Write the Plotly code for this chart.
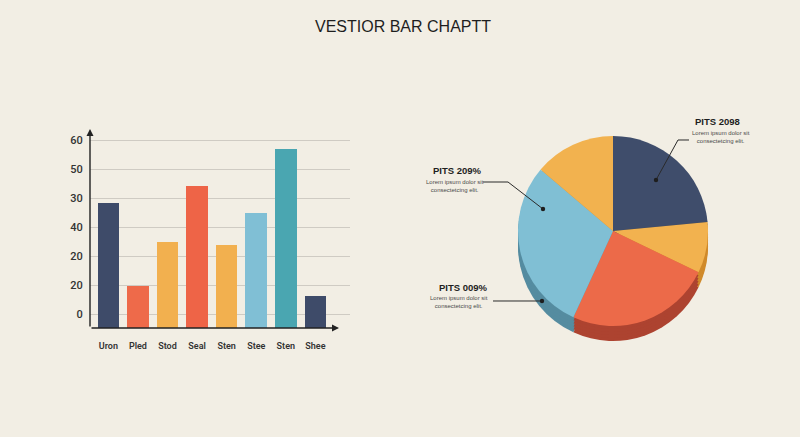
import plotly.graph_objects as go

W, H = 800, 437

# ---------------- data ----------------
title_text = "VESTIOR BAR CHAPTT"
bar_categories = ["Uron", "Pled", "Stod", "Seal", "Sten", "Stee", "Sten", "Shee"]
bar_values = [38.4, 9.8, 24.9, 44.1, 23.8, 34.8, 56.9, 6.3]
bar_colors = ["#3e4b69", "#ee6a4a", "#f2b04f", "#ee6447", "#f2b04f", "#80bfd5", "#4aa6b1", "#3e4b69"]
y_tick_values = [0, 10, 20, 30, 40, 50, 60]
y_tick_labels = ["0", "20", "20", "40", "30", "50", "60"]
y_floor = -4.8
y_top = 64

pie_labels = ["Navy", "Orange A", "Red", "Blue", "Orange B"]
pie_values = [23.5, 8.7, 24.7, 29.4, 13.8]
pie_colors = ["#3f4d6b", "#f2b24f", "#ec6a49", "#80bfd4", "#f2b24f"]
pie_side_colors = ["#2d3850", "#d08a2a", "#ad4330", "#558ca0", "#d08a2a"]

callout_titles = ["PITS 2098", "PITS 209%", "PITS 009%"]
callout_body = "Lorem ipsum dolor sit<br>consectetcing elit."

BG = "#f2eee4"


def px(x):
    return x / W


def py(y):
    return 1 - y / H


fig = go.Figure()

# ---------------- bar chart ----------------
fig.add_trace(go.Bar(
    x=list(range(len(bar_categories))),
    y=[v - y_floor for v in bar_values],
    base=y_floor,
    marker=dict(color=bar_colors, line=dict(width=0)),
    width=0.73,
    showlegend=False,
    hoverinfo="skip",
))

# ---------------- pie (3D look: darker pies shifted down + top face) ----------------
cx, cy, r = 613, 231, 95
depth = 15
for d in [depth, 12, 9, 6, 3]:
    fig.add_trace(go.Pie(
        labels=pie_labels, values=pie_values, sort=False, direction="clockwise", rotation=0,
        marker=dict(colors=pie_side_colors, line=dict(width=0)),
        textinfo="none", hoverinfo="skip", showlegend=False,
        domain=dict(x=[px(cx - r), px(cx + r)], y=[py(cy + d + r), py(cy + d - r)]),
    ))
fig.add_trace(go.Pie(
    labels=pie_labels, values=pie_values, sort=False, direction="clockwise", rotation=0,
    marker=dict(colors=pie_colors, line=dict(width=0)),
    textinfo="none", hoverinfo="skip", showlegend=False,
    domain=dict(x=[px(cx - r), px(cx + r)], y=[py(cy + r), py(cy - r)]),
))

# ---------------- layout ----------------
fig.update_layout(
    width=W, height=H,
    margin=dict(l=0, r=0, t=0, b=0),
    paper_bgcolor=BG, plot_bgcolor=BG,
    font=dict(family="Liberation Sans, Arial, sans-serif", color="#2b2b2b"),
    bargap=0,
    xaxis=dict(
        domain=[px(90), px(350)],
        range=[-0.62, 8.17],
        tickmode="array",
        tickvals=list(range(len(bar_categories))),
        ticktext=bar_categories,
        tickfont=dict(size=9, color="#333333", family="Roboto, Arial, sans-serif", weight=600),
        ticks="outside", ticklen=9, tickcolor="rgba(0,0,0,0)",
        showgrid=False, zeroline=False, showline=False, fixedrange=True,
    ),
    yaxis=dict(
        domain=[py(328), py(128.5)],
        range=[y_floor, y_top],
        tickmode="array",
        tickvals=y_tick_values,
        ticktext=y_tick_labels,
        tickfont=dict(size=11, color="#333333", family="Roboto, Arial, sans-serif", weight=500),
        ticks="outside", ticklen=4, tickcolor="rgba(0,0,0,0)",
        showgrid=True, gridcolor="#cfcbc3", gridwidth=1,
        zeroline=False, showline=False, fixedrange=True,
    ),
)

annotations = []
shapes = []

# title
annotations.append(dict(
    text=title_text, x=px(403), y=py(26), xref="paper", yref="paper",
    xanchor="center", yanchor="middle",
    showarrow=False, font=dict(size=16, color="#1e1e1e", family="Liberation Sans, Arial, sans-serif"),
))

# axis arrows
annotations.append(dict(
    x=px(339), y=py(328), ax=-(339 - 90), ay=0,
    xref="paper", yref="paper", axref="pixel", ayref="pixel",
    text="", showarrow=True, arrowhead=2, arrowsize=1, arrowwidth=1.4, arrowcolor="#222222",
))
annotations.append(dict(
    x=px(90), y=py(129), ax=0, ay=(328 - 129),
    xref="paper", yref="paper", axref="pixel", ayref="pixel",
    text="", showarrow=True, arrowhead=2, arrowsize=1, arrowwidth=1.4, arrowcolor="#222222",
))

# callouts
callouts = [
    ((717, 121), (721, 137), [(689, 140), (678, 140), (656, 180)], (656, 180)),
    ((457, 171), (455, 186), [(483, 182), (508, 182), (543, 209)], (543, 209)),
    ((463, 287), (459, 302), [(493, 301), (542, 301)], (542, 301)),
]
for title, (tpos, bpos, line, dot) in zip(callout_titles, callouts):
    annotations.append(dict(
        text="<b>%s</b>" % title, x=px(tpos[0]), y=py(tpos[1]), xref="paper", yref="paper",
        xanchor="center", yanchor="middle",
        showarrow=False, font=dict(size=9.5, color="#1e1e1e", family="Liberation Sans, Arial, sans-serif"),
    ))
    annotations.append(dict(
        text=callout_body, x=px(bpos[0]), y=py(bpos[1]), xref="paper", yref="paper",
        xanchor="center", yanchor="middle",
        showarrow=False, align="center",
        font=dict(size=6, color="#4a4a4a", family="Liberation Sans, Arial, sans-serif"),
    ))
    path = "M " + " L ".join("%f,%f" % (px(a), py(b)) for a, b in line)
    shapes.append(dict(type="path", path=path, xref="paper", yref="paper",
                       line=dict(color="#2a2a2a", width=1), layer="above"))
    shapes.append(dict(type="circle", xref="paper", yref="paper",
                       x0=px(dot[0] - 2.2), x1=px(dot[0] + 2.2), y0=py(dot[1] + 2.2), y1=py(dot[1] - 2.2),
                       fillcolor="#1e1e1e", line=dict(width=0), layer="above"))

fig.update_layout(annotations=annotations, shapes=shapes)

fig.write_html(
    "out.html",
    config={"displayModeBar": False, "staticPlot": True},
    post_script="document.body.style.margin='0';document.body.style.overflow='hidden';"
                "document.body.style.background='" + BG + "';",
)
